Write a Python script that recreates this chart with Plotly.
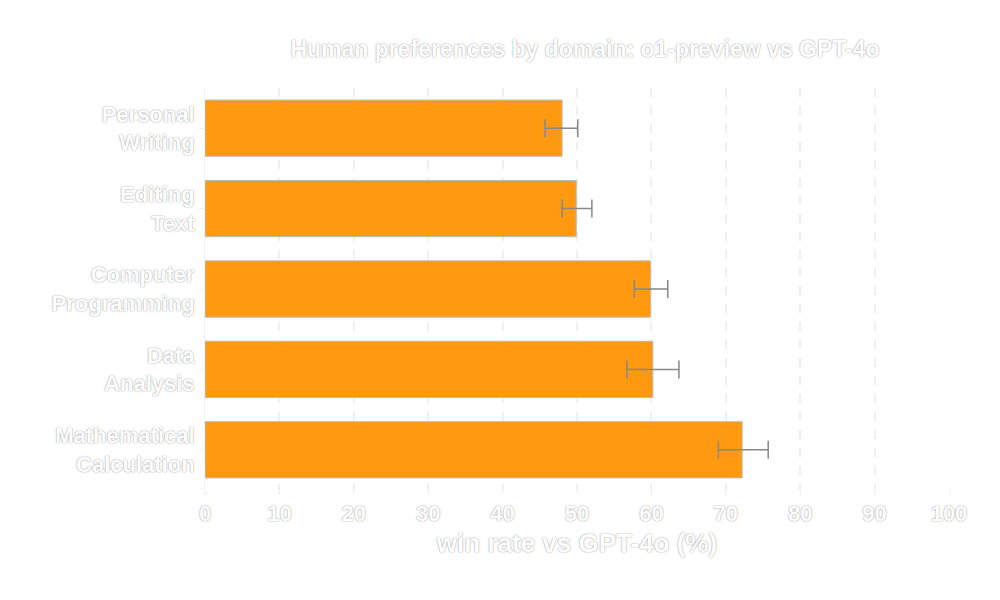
import plotly.graph_objects as go

categories = ["Personal<br>Writing", "Editing<br>Text", "Computer<br>Programming", "Data<br>Analysis", "Mathematical<br>Calculation"]
win_rate = [48.0, 49.9, 59.9, 60.2, 72.2]
err_low = [45.7, 48.0, 57.7, 56.7, 69.0]
err_high = [50.1, 52.0, 62.2, 63.7, 75.7]

plus = [h - v for h, v in zip(err_high, win_rate)]
minus = [v - l for v, l in zip(win_rate, err_low)]

shadow = "0px 0px 1.5px #777"
fig = go.Figure(go.Bar(
    y=categories, x=win_rate, orientation="h",
    marker=dict(color="#FF9A10", line=dict(color="#bbbbbb", width=1)),
    width=0.7,
    error_x=dict(type="data", symmetric=False, array=plus, arrayminus=minus,
                 color="#888888", thickness=1.5, width=9),
))
fig.update_layout(
    width=1000, height=600,
    paper_bgcolor="rgba(0,0,0,0)", plot_bgcolor="rgba(0,0,0,0)",
    margin=dict(l=197, r=59, t=80, b=118),
    font=dict(family="Liberation Sans, Arial", size=22, color="white", shadow=shadow, weight="bold"),
    title=dict(text="Human preferences by domain: o1-preview vs GPT-4o", x=0.577, xanchor="center", y=0.945,
               font=dict(size=23, color="white", shadow=shadow, weight="bold")),
    bargap=0.3, showlegend=False,
)
fig.update_xaxes(range=[0, 100], dtick=10, showgrid=True, gridcolor="#efefef", griddash="dash", gridwidth=1.5,
                 zeroline=False, title=dict(text="win rate vs GPT-4o (%)", standoff=8),
                 ticks="outside", ticklen=4, tickcolor="#eeeeee", layer="above traces")
fig.update_yaxes(autorange="reversed", showgrid=False, ticks="outside", ticklen=5, tickcolor="#eeeeee",
                 showline=True, linecolor="#f3f3f3")
fig.write_html("out.html")
